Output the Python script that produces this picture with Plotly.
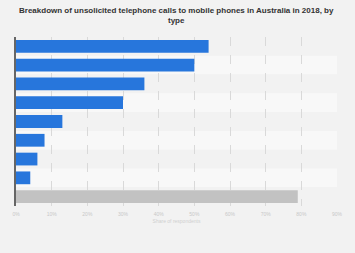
import plotly.graph_objects as go

categories = ["Type A", "Type B", "Type C", "Type D", "Type E", "Type F", "Type G", "Type H", "Other"]
values = [54, 50, 36, 30, 13, 8, 6, 4, 79]
bar_colors = ["#2776dc"] * 8 + ["#c2c2c2"]
tick_vals = [0, 10, 20, 30, 40, 50, 60, 70, 80, 90]
tick_text = [f"{v}%" for v in tick_vals]
title_text = "<b>Breakdown of unsolicited telephone calls to mobile phones in Australia in 2018, by<br>type</b>"

n = len(categories)
ypos = list(range(n))

fig = go.Figure()
fig.add_trace(go.Bar(
    x=values, y=ypos, orientation="h",
    marker=dict(color=bar_colors, line=dict(width=0)),
    width=0.68, hoverinfo="x",
))

shapes = []
for i in range(n):
    shapes.append(dict(type="rect", xref="x", yref="y", x0=0, x1=90,
                       y0=i - 0.5, y1=i + 0.5, layer="below", line=dict(width=0),
                       fillcolor="#f8f8f8" if i % 2 == 1 else "#f2f2f2"))

fig.update_layout(
    width=355, height=253,
    margin=dict(l=15, r=14, t=37, b=47),
    paper_bgcolor="#f2f2f2", plot_bgcolor="#f2f2f2",
    shapes=shapes,
    showlegend=False,
    annotations=[dict(text=title_text, xref="paper", yref="paper", x=0.5, y=1.195,
                      xanchor="center", yanchor="top", showarrow=False,
                      font=dict(family="Liberation Sans, Arial", size=8, color="#333333"))],
)
fig.update_xaxes(range=[0, 90], tickvals=tick_vals, ticktext=tick_text,
                 showgrid=True, gridcolor="#d9d9d9", griddash="dash", gridwidth=1,
                 zeroline=False, showline=False, ticklabelstandoff=4,
                 tickfont=dict(family="Liberation Sans, Arial", size=5, color="#c8c8c8"),
                 title=dict(text="Share of respondents", standoff=3,
                            font=dict(family="Liberation Sans, Arial", size=5, color="#d0d0d0")),
                 ticks="", ticklen=0)
fig.update_yaxes(range=[n - 0.5, -0.5], showticklabels=False, showgrid=False,
                 zeroline=False, showline=True, linecolor="#666666", linewidth=1.5, ticks="")

fig.write_html("out.html")
